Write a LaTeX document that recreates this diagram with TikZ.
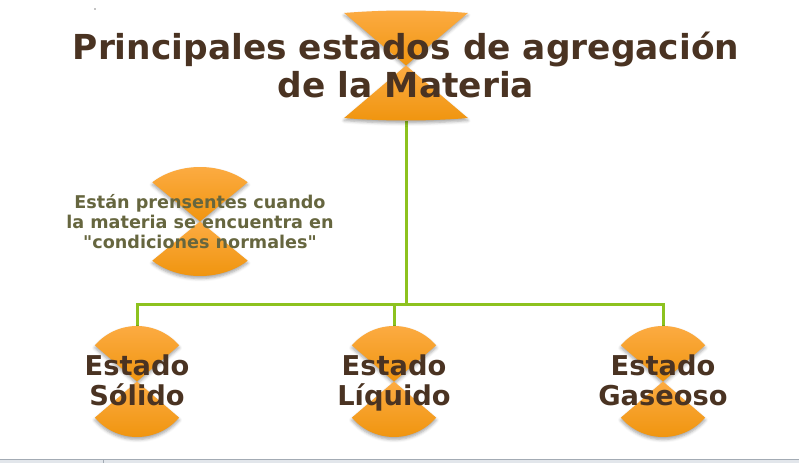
\documentclass[tikz,border=0pt]{standalone}
\usepackage{fontspec}
\setmainfont{DejaVu Sans}[Ligatures=TeXOff]
\usetikzlibrary{shadows.blur}
\definecolor{orL}{HTML}{FCAB42}
\definecolor{orD}{HTML}{F0950F}
\definecolor{brn}{HTML}{4A3322}
\definecolor{olv}{HTML}{66663F}
\definecolor{grn}{HTML}{8DC21F}
\definecolor{barfill}{HTML}{E2E6EB}
\definecolor{barline}{HTML}{A3ABB4}
\tikzset{
  hg/.style={top color=orL, bottom color=orD, draw=none},
  hgshadow/.style={blur shadow={shadow xshift=0pt, shadow yshift=-2.5pt, shadow blur radius=3pt, shadow opacity=35}},
  link/.style={draw=grn, line width=3pt},
  holder/.style={inner sep=0pt, outer sep=0pt, draw=none},
  titlefont/.style={font=\fontsize{34.4}{38}\selectfont\bfseries, text=brn, align=center},
  notefont/.style={font=\fontsize{17.6}{20}\selectfont\bfseries, text=olv, align=center},
  statefont/.style={font=\fontsize{27.3}{30}\selectfont\bfseries, text=brn, align=center},
}
% #1,#2 centre (pixels, y down), #3 x radius, #4 y radius, #5 half-opening start angle
\newcommand\hgshape[5]{%
  \path[hg, hgshadow] (#1,#2) -- plot[domain=#5:{180-#5}, samples=40, variable=\u] ({#1+#3*cos(\u)}, {#2-#4*sin(\u)}) -- cycle;
  \path[hg, hgshadow] (#1,#2) -- plot[domain=#5:{180-#5}, samples=40, variable=\u] ({#1+#3*cos(\u)}, {#2+#4*sin(\u)}) -- cycle;
}
\begin{document}
\begin{tikzpicture}[x=1pt, y=-1pt]
\useasboundingbox (0,0) rectangle (799,463);
% bottom window bar
\fill[barfill] (0,459.5) rectangle (799,463);
\draw[barline, line width=1pt] (0,459.5) -- (799,459.5);
\draw[barline, line width=0.8pt] (103,460) -- (103,463);
\fill[black] (95,9) circle (0.6pt);

% shape holders
\node[holder, minimum width=124pt, minimum height=110pt] (title) at (406,65.5) {};
\node[holder, minimum width=95pt, minimum height=109pt] (note) at (200,221.5) {};
\node[holder, minimum width=85pt, minimum height=111pt] (sol) at (137,381.5) {};
\node[holder, minimum width=85pt, minimum height=111pt] (liq) at (394,381.5) {};
\node[holder, minimum width=85pt, minimum height=111pt] (gas) at (663,381.5) {};
\coordinate (busL) at (137,304);

% connectors
\draw[link] (title.south) -- (title.south |- busL);
\draw[link] (sol.north) -- (busL) -| (gas.north);
\draw[link] (liq.north) -- (liq.north |- busL);

% hourglass shapes
\hgshape{406}{65.5}{208}{55}{72.7}
\hgshape{200}{221.5}{68.7}{54.5}{46}
\hgshape{137}{381.5}{55.5}{55.5}{40.6}
\hgshape{394}{381.5}{55.5}{55.5}{40.6}
\hgshape{663}{381.5}{55.5}{55.5}{40.6}

% texts
\node[titlefont, anchor=base] (titletext) at (406,97) {Principales estados de agregación\\de la Materia};
\node[notefont, anchor=base] (notetext) at (200,248) {Están prensentes cuando\\la materia se encuentra en\\"condiciones normales"};
\node[statefont, anchor=base] (soltext) at (137,405) {Estado\\Sólido};
\node[statefont, anchor=base] (liqtext) at (394,405) {Estado\\Líquido};
\node[statefont, anchor=base] (gastext) at (663,405) {Estado\\Gaseoso};
\end{tikzpicture}
\end{document}
